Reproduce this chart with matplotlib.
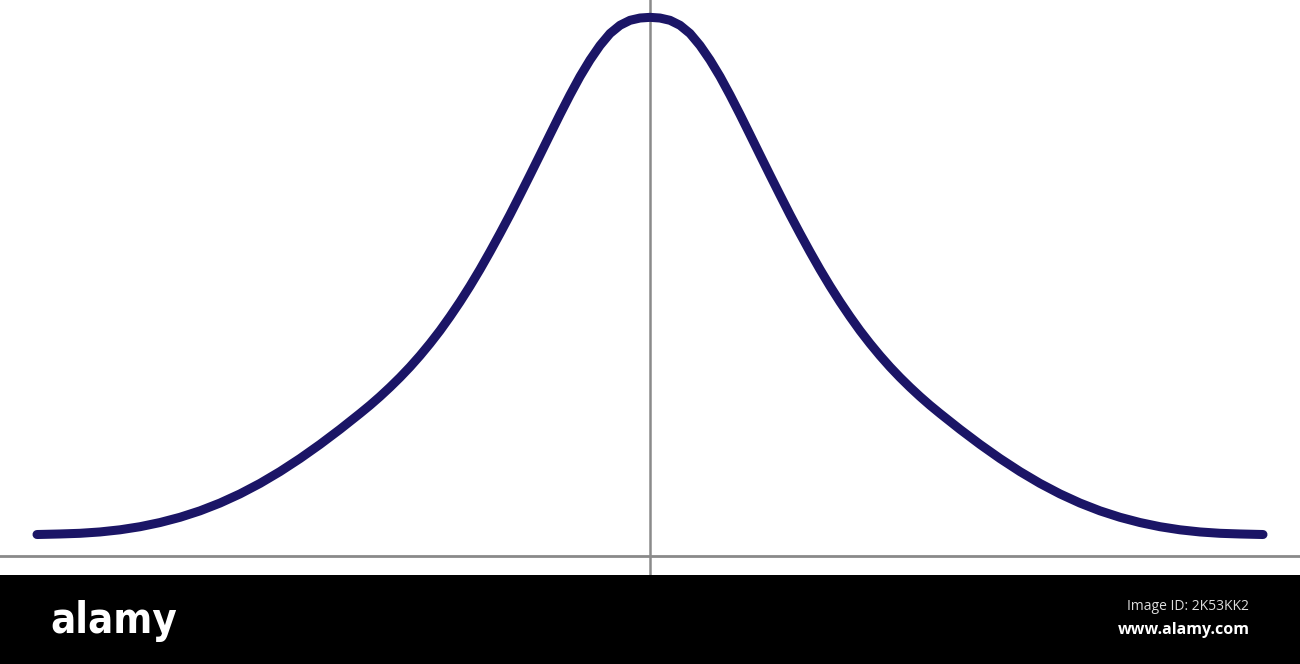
import matplotlib

matplotlib.use("Agg")
import matplotlib.pyplot as plt
from matplotlib.patches import Rectangle
import numpy as np

# right half of the bell curve (the curve is symmetric)
x_half = [0.00, 0.05, 0.10, 0.15, 0.20, 0.25, 0.30, 0.35, 0.40, 0.45,
          0.50, 0.55, 0.60, 0.65, 0.70, 0.75, 0.80, 0.85, 0.90, 0.95,
          1.00, 1.05, 1.10, 1.15, 1.20, 1.25, 1.30, 1.35, 1.40, 1.45,
          1.55, 1.65, 1.75, 1.85, 1.95, 2.05, 2.15, 2.25, 2.35, 2.45,
          2.55, 2.65, 2.75, 2.85, 2.95, 3.065]
y_half = [0.4005, 0.4000, 0.3983, 0.3946, 0.3885, 0.3796, 0.3688, 0.3565, 0.3428, 0.3283,
          0.3133, 0.2982, 0.2832, 0.2684, 0.2538, 0.2398, 0.2262, 0.2131, 0.2007, 0.1890,
          0.1780, 0.1676, 0.1580, 0.1490, 0.1406, 0.1328, 0.1255, 0.1186, 0.1121, 0.1060,
          0.0942, 0.0830, 0.0725, 0.0628, 0.0540, 0.0462, 0.0394, 0.0336, 0.0288, 0.0249,
          0.0218, 0.0195, 0.0179, 0.0169, 0.0164, 0.0160]

x_vals = np.concatenate([-np.array(x_half[:0:-1]), np.array(x_half)])
y_vals = np.concatenate([np.array(y_half[:0:-1]), np.array(y_half)])

logo_text = "alamy"
image_id = "Image ID: 2K53KK2"
site_text = "www.alamy.com"

curve_color = "#1b1566"
axis_color = "#8a8a8a"

fig = plt.figure(figsize=(13, 6.64), dpi=100)
fig.patch.set_facecolor("white")

bar_h = 89 / 664
ax = fig.add_axes([0, bar_h, 1, 1 - bar_h])
ax.set_xlim(-3.25, 3.25)
ax.set_ylim(-0.0141, 0.4134)
ax.axis("off")

ax.axhline(0, color=axis_color, lw=2.0, zorder=1)
ax.axvline(0, color=axis_color, lw=1.8, zorder=1)
ax.plot(x_vals, y_vals, color=curve_color, lw=6.5, solid_capstyle="round",
        solid_joinstyle="round", zorder=2)

# black footer strip
fig.patches.append(Rectangle((0, 0), 1, bar_h, transform=fig.transFigure,
                             facecolor="black", edgecolor="none", zorder=0))
fig.text(50 / 1300, 1 - 633 / 664, logo_text, color="white", fontsize=30,
         fontweight="bold", fontstretch="condensed", family="DejaVu Sans",
         ha="left", va="baseline")
fig.text(1249 / 1300, 1 - 606 / 664, image_id, color="#dddddd", fontsize=10,
         family=["Open Sans", "DejaVu Sans"], ha="right", va="center")
fig.text(1250 / 1300, 1 - 630 / 664, site_text, color="white", fontsize=11.5,
         fontweight="bold", family=["Open Sans", "DejaVu Sans"],
         ha="right", va="center")

fig.savefig("out.png", dpi=100, facecolor="white")
